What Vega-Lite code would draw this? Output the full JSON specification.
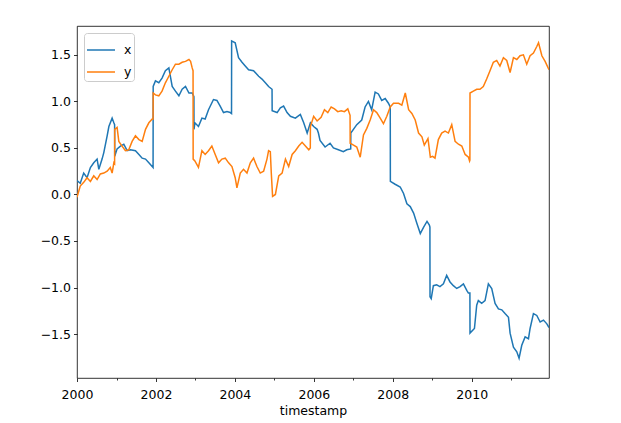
{
  "$schema": "https://vega.github.io/schema/vega-lite/v6.json",
  "width": 472,
  "height": 352,
  "autosize": "none",
  "padding": {"left": 77, "top": 26, "right": 72, "bottom": 45},
  "background": "white",
  "config": {
    "font": "DejaVu Sans",
    "view": {"stroke": "#000000", "strokeWidth": 0.8},
    "axis": {"grid": false, "domain": false, "labelFont": "DejaVu Sans", "labelFontSize": 12.5, "labelColor": "#000000", "tickColor": "#000000", "tickWidth": 0.8, "titleFont": "DejaVu Sans", "titleFontSize": 12.5, "titleFontWeight": "normal", "titleColor": "#000000"},
    "legend": {"labelFont": "DejaVu Sans"}
  },
  "data": {
    "format": {"parse": {"timestamp": "utc:'%Y-%m-%d'"}},
    "values": [
      {"timestamp": "2000-01-01", "series": "x", "value": 0.15},
      {"timestamp": "2000-01-31", "series": "x", "value": 0.12},
      {"timestamp": "2000-03-03", "series": "x", "value": 0.23},
      {"timestamp": "2000-04-03", "series": "x", "value": 0.18},
      {"timestamp": "2000-05-04", "series": "x", "value": 0.29},
      {"timestamp": "2000-06-04", "series": "x", "value": 0.34},
      {"timestamp": "2000-07-05", "series": "x", "value": 0.38},
      {"timestamp": "2000-07-21", "series": "x", "value": 0.27},
      {"timestamp": "2000-08-20", "series": "x", "value": 0.38},
      {"timestamp": "2000-09-05", "series": "x", "value": 0.45},
      {"timestamp": "2000-10-06", "series": "x", "value": 0.63},
      {"timestamp": "2000-10-22", "series": "x", "value": 0.73},
      {"timestamp": "2000-11-21", "series": "x", "value": 0.82},
      {"timestamp": "2000-12-07", "series": "x", "value": 0.77},
      {"timestamp": "2000-12-14", "series": "x", "value": 0.75},
      {"timestamp": "2000-12-15", "series": "x", "value": 0.41},
      {"timestamp": "2001-01-06", "series": "x", "value": 0.49},
      {"timestamp": "2001-02-06", "series": "x", "value": 0.52},
      {"timestamp": "2001-03-09", "series": "x", "value": 0.54},
      {"timestamp": "2001-04-09", "series": "x", "value": 0.47},
      {"timestamp": "2001-05-10", "series": "x", "value": 0.48},
      {"timestamp": "2001-06-25", "series": "x", "value": 0.47},
      {"timestamp": "2001-07-27", "series": "x", "value": 0.43},
      {"timestamp": "2001-08-26", "series": "x", "value": 0.39},
      {"timestamp": "2001-09-26", "series": "x", "value": 0.38},
      {"timestamp": "2001-10-27", "series": "x", "value": 0.34},
      {"timestamp": "2001-11-27", "series": "x", "value": 0.30},
      {"timestamp": "2001-12-05", "series": "x", "value": 0.29},
      {"timestamp": "2001-12-06", "series": "x", "value": 1.16},
      {"timestamp": "2001-12-27", "series": "x", "value": 1.22},
      {"timestamp": "2002-01-27", "series": "x", "value": 1.20},
      {"timestamp": "2002-02-26", "series": "x", "value": 1.25},
      {"timestamp": "2002-03-29", "series": "x", "value": 1.33},
      {"timestamp": "2002-04-30", "series": "x", "value": 1.36},
      {"timestamp": "2002-05-31", "series": "x", "value": 1.16},
      {"timestamp": "2002-06-30", "series": "x", "value": 1.11},
      {"timestamp": "2002-08-01", "series": "x", "value": 1.06},
      {"timestamp": "2002-08-31", "series": "x", "value": 1.13},
      {"timestamp": "2002-10-01", "series": "x", "value": 1.16},
      {"timestamp": "2002-11-02", "series": "x", "value": 1.09},
      {"timestamp": "2002-12-02", "series": "x", "value": 1.09},
      {"timestamp": "2002-12-18", "series": "x", "value": 1.05},
      {"timestamp": "2002-12-19", "series": "x", "value": 0.70},
      {"timestamp": "2002-12-27", "series": "x", "value": 0.77},
      {"timestamp": "2003-01-29", "series": "x", "value": 0.73},
      {"timestamp": "2003-03-02", "series": "x", "value": 0.82},
      {"timestamp": "2003-04-01", "series": "x", "value": 0.81},
      {"timestamp": "2003-05-02", "series": "x", "value": 0.91},
      {"timestamp": "2003-06-17", "series": "x", "value": 1.02},
      {"timestamp": "2003-07-19", "series": "x", "value": 1.01},
      {"timestamp": "2003-08-18", "series": "x", "value": 0.95},
      {"timestamp": "2003-09-18", "series": "x", "value": 0.88},
      {"timestamp": "2003-10-20", "series": "x", "value": 0.89},
      {"timestamp": "2003-11-19", "series": "x", "value": 0.88},
      {"timestamp": "2003-12-01", "series": "x", "value": 0.87},
      {"timestamp": "2003-12-02", "series": "x", "value": 1.65},
      {"timestamp": "2004-01-04", "series": "x", "value": 1.63},
      {"timestamp": "2004-02-04", "series": "x", "value": 1.47},
      {"timestamp": "2004-03-07", "series": "x", "value": 1.42},
      {"timestamp": "2004-04-06", "series": "x", "value": 1.38},
      {"timestamp": "2004-05-07", "series": "x", "value": 1.34},
      {"timestamp": "2004-06-22", "series": "x", "value": 1.33},
      {"timestamp": "2004-08-08", "series": "x", "value": 1.27},
      {"timestamp": "2004-09-08", "series": "x", "value": 1.24},
      {"timestamp": "2004-10-09", "series": "x", "value": 1.20},
      {"timestamp": "2004-11-08", "series": "x", "value": 1.16},
      {"timestamp": "2004-12-10", "series": "x", "value": 1.13},
      {"timestamp": "2004-12-11", "series": "x", "value": 0.90},
      {"timestamp": "2005-01-26", "series": "x", "value": 0.88},
      {"timestamp": "2005-02-25", "series": "x", "value": 0.93},
      {"timestamp": "2005-03-27", "series": "x", "value": 0.95},
      {"timestamp": "2005-04-28", "series": "x", "value": 0.88},
      {"timestamp": "2005-05-29", "series": "x", "value": 0.84},
      {"timestamp": "2005-07-14", "series": "x", "value": 0.82},
      {"timestamp": "2005-08-29", "series": "x", "value": 0.86},
      {"timestamp": "2005-09-29", "series": "x", "value": 0.77},
      {"timestamp": "2005-10-31", "series": "x", "value": 0.66},
      {"timestamp": "2005-11-30", "series": "x", "value": 0.77},
      {"timestamp": "2005-12-30", "series": "x", "value": 0.73},
      {"timestamp": "2006-01-31", "series": "x", "value": 0.70},
      {"timestamp": "2006-02-12", "series": "x", "value": 0.66},
      {"timestamp": "2006-02-27", "series": "x", "value": 0.58},
      {"timestamp": "2006-04-15", "series": "x", "value": 0.51},
      {"timestamp": "2006-05-31", "series": "x", "value": 0.55},
      {"timestamp": "2006-07-01", "series": "x", "value": 0.50},
      {"timestamp": "2006-08-16", "series": "x", "value": 0.48},
      {"timestamp": "2006-10-01", "series": "x", "value": 0.46},
      {"timestamp": "2006-11-01", "series": "x", "value": 0.48},
      {"timestamp": "2006-12-08", "series": "x", "value": 0.49},
      {"timestamp": "2006-12-09", "series": "x", "value": 0.66},
      {"timestamp": "2007-02-02", "series": "x", "value": 0.75},
      {"timestamp": "2007-03-20", "series": "x", "value": 0.80},
      {"timestamp": "2007-04-20", "series": "x", "value": 0.94},
      {"timestamp": "2007-05-21", "series": "x", "value": 1.00},
      {"timestamp": "2007-06-20", "series": "x", "value": 0.91},
      {"timestamp": "2007-07-22", "series": "x", "value": 1.10},
      {"timestamp": "2007-08-21", "series": "x", "value": 1.08},
      {"timestamp": "2007-09-21", "series": "x", "value": 1.01},
      {"timestamp": "2007-10-23", "series": "x", "value": 1.03},
      {"timestamp": "2007-11-22", "series": "x", "value": 0.98},
      {"timestamp": "2007-12-09", "series": "x", "value": 0.94},
      {"timestamp": "2007-12-10", "series": "x", "value": 0.14},
      {"timestamp": "2008-01-23", "series": "x", "value": 0.11},
      {"timestamp": "2008-03-10", "series": "x", "value": 0.08},
      {"timestamp": "2008-04-10", "series": "x", "value": 0.01},
      {"timestamp": "2008-05-11", "series": "x", "value": -0.10},
      {"timestamp": "2008-06-11", "series": "x", "value": -0.13},
      {"timestamp": "2008-07-12", "series": "x", "value": -0.20},
      {"timestamp": "2008-08-11", "series": "x", "value": -0.31},
      {"timestamp": "2008-09-12", "series": "x", "value": -0.42},
      {"timestamp": "2008-10-13", "series": "x", "value": -0.35},
      {"timestamp": "2008-11-13", "series": "x", "value": -0.29},
      {"timestamp": "2008-12-05", "series": "x", "value": -0.33},
      {"timestamp": "2008-12-10", "series": "x", "value": -0.35},
      {"timestamp": "2008-12-11", "series": "x", "value": -1.10},
      {"timestamp": "2008-12-22", "series": "x", "value": -1.12},
      {"timestamp": "2009-01-11", "series": "x", "value": -0.98},
      {"timestamp": "2009-02-10", "series": "x", "value": -0.97},
      {"timestamp": "2009-03-13", "series": "x", "value": -0.99},
      {"timestamp": "2009-04-14", "series": "x", "value": -0.96},
      {"timestamp": "2009-05-14", "series": "x", "value": -0.87},
      {"timestamp": "2009-06-14", "series": "x", "value": -0.94},
      {"timestamp": "2009-07-15", "series": "x", "value": -0.98},
      {"timestamp": "2009-08-15", "series": "x", "value": -1.01},
      {"timestamp": "2009-09-15", "series": "x", "value": -0.99},
      {"timestamp": "2009-10-16", "series": "x", "value": -0.96},
      {"timestamp": "2009-11-16", "series": "x", "value": -1.03},
      {"timestamp": "2009-12-01", "series": "x", "value": -1.06},
      {"timestamp": "2009-12-15", "series": "x", "value": -1.06},
      {"timestamp": "2009-12-16", "series": "x", "value": -1.49},
      {"timestamp": "2010-01-26", "series": "x", "value": -1.44},
      {"timestamp": "2010-02-16", "series": "x", "value": -1.19},
      {"timestamp": "2010-03-03", "series": "x", "value": -1.14},
      {"timestamp": "2010-04-03", "series": "x", "value": -1.17},
      {"timestamp": "2010-05-04", "series": "x", "value": -1.14},
      {"timestamp": "2010-06-04", "series": "x", "value": -0.96},
      {"timestamp": "2010-07-05", "series": "x", "value": -1.01},
      {"timestamp": "2010-08-05", "series": "x", "value": -1.17},
      {"timestamp": "2010-09-05", "series": "x", "value": -1.23},
      {"timestamp": "2010-10-06", "series": "x", "value": -1.24},
      {"timestamp": "2010-11-05", "series": "x", "value": -1.28},
      {"timestamp": "2010-12-07", "series": "x", "value": -1.32},
      {"timestamp": "2010-12-22", "series": "x", "value": -1.49},
      {"timestamp": "2011-01-22", "series": "x", "value": -1.64},
      {"timestamp": "2011-02-22", "series": "x", "value": -1.69},
      {"timestamp": "2011-03-15", "series": "x", "value": -1.76},
      {"timestamp": "2011-04-09", "series": "x", "value": -1.62},
      {"timestamp": "2011-05-10", "series": "x", "value": -1.53},
      {"timestamp": "2011-06-10", "series": "x", "value": -1.55},
      {"timestamp": "2011-06-25", "series": "x", "value": -1.44},
      {"timestamp": "2011-07-26", "series": "x", "value": -1.28},
      {"timestamp": "2011-08-26", "series": "x", "value": -1.30},
      {"timestamp": "2011-09-26", "series": "x", "value": -1.37},
      {"timestamp": "2011-10-27", "series": "x", "value": -1.35},
      {"timestamp": "2011-11-27", "series": "x", "value": -1.39},
      {"timestamp": "2011-12-17", "series": "x", "value": -1.43},

      {"timestamp": "2000-01-01", "series": "y", "value": -0.03},
      {"timestamp": "2000-01-31", "series": "y", "value": 0.09},
      {"timestamp": "2000-03-03", "series": "y", "value": 0.13},
      {"timestamp": "2000-04-03", "series": "y", "value": 0.18},
      {"timestamp": "2000-05-04", "series": "y", "value": 0.14},
      {"timestamp": "2000-06-04", "series": "y", "value": 0.20},
      {"timestamp": "2000-07-05", "series": "y", "value": 0.16},
      {"timestamp": "2000-08-04", "series": "y", "value": 0.22},
      {"timestamp": "2000-09-05", "series": "y", "value": 0.23},
      {"timestamp": "2000-10-06", "series": "y", "value": 0.25},
      {"timestamp": "2000-11-04", "series": "y", "value": 0.29},
      {"timestamp": "2000-11-21", "series": "y", "value": 0.23},
      {"timestamp": "2000-12-07", "series": "y", "value": 0.34},
      {"timestamp": "2000-12-14", "series": "y", "value": 0.33},
      {"timestamp": "2000-12-15", "series": "y", "value": 0.70},
      {"timestamp": "2001-01-06", "series": "y", "value": 0.72},
      {"timestamp": "2001-01-22", "series": "y", "value": 0.57},
      {"timestamp": "2001-02-21", "series": "y", "value": 0.52},
      {"timestamp": "2001-03-24", "series": "y", "value": 0.47},
      {"timestamp": "2001-04-24", "series": "y", "value": 0.48},
      {"timestamp": "2001-05-25", "series": "y", "value": 0.57},
      {"timestamp": "2001-06-25", "series": "y", "value": 0.63},
      {"timestamp": "2001-07-27", "series": "y", "value": 0.59},
      {"timestamp": "2001-08-26", "series": "y", "value": 0.57},
      {"timestamp": "2001-09-26", "series": "y", "value": 0.70},
      {"timestamp": "2001-10-27", "series": "y", "value": 0.77},
      {"timestamp": "2001-11-27", "series": "y", "value": 0.81},
      {"timestamp": "2001-12-05", "series": "y", "value": 0.81},
      {"timestamp": "2001-12-06", "series": "y", "value": 1.09},
      {"timestamp": "2001-12-27", "series": "y", "value": 1.07},
      {"timestamp": "2002-01-27", "series": "y", "value": 1.06},
      {"timestamp": "2002-02-26", "series": "y", "value": 1.11},
      {"timestamp": "2002-03-29", "series": "y", "value": 1.20},
      {"timestamp": "2002-04-30", "series": "y", "value": 1.27},
      {"timestamp": "2002-05-31", "series": "y", "value": 1.34},
      {"timestamp": "2002-06-30", "series": "y", "value": 1.40},
      {"timestamp": "2002-08-01", "series": "y", "value": 1.40},
      {"timestamp": "2002-08-31", "series": "y", "value": 1.42},
      {"timestamp": "2002-10-01", "series": "y", "value": 1.43},
      {"timestamp": "2002-11-02", "series": "y", "value": 1.45},
      {"timestamp": "2002-11-17", "series": "y", "value": 1.43},
      {"timestamp": "2002-12-02", "series": "y", "value": 1.36},
      {"timestamp": "2002-12-10", "series": "y", "value": 1.33},
      {"timestamp": "2002-12-11", "series": "y", "value": 0.38},
      {"timestamp": "2002-12-27", "series": "y", "value": 0.36},
      {"timestamp": "2003-01-29", "series": "y", "value": 0.29},
      {"timestamp": "2003-03-02", "series": "y", "value": 0.47},
      {"timestamp": "2003-04-01", "series": "y", "value": 0.43},
      {"timestamp": "2003-05-02", "series": "y", "value": 0.47},
      {"timestamp": "2003-06-02", "series": "y", "value": 0.52},
      {"timestamp": "2003-07-03", "series": "y", "value": 0.43},
      {"timestamp": "2003-08-03", "series": "y", "value": 0.34},
      {"timestamp": "2003-09-03", "series": "y", "value": 0.38},
      {"timestamp": "2003-10-04", "series": "y", "value": 0.39},
      {"timestamp": "2003-11-04", "series": "y", "value": 0.34},
      {"timestamp": "2003-12-05", "series": "y", "value": 0.30},
      {"timestamp": "2004-01-04", "series": "y", "value": 0.18},
      {"timestamp": "2004-01-20", "series": "y", "value": 0.07},
      {"timestamp": "2004-02-20", "series": "y", "value": 0.23},
      {"timestamp": "2004-03-21", "series": "y", "value": 0.27},
      {"timestamp": "2004-04-22", "series": "y", "value": 0.23},
      {"timestamp": "2004-05-23", "series": "y", "value": 0.34},
      {"timestamp": "2004-06-22", "series": "y", "value": 0.39},
      {"timestamp": "2004-07-23", "series": "y", "value": 0.30},
      {"timestamp": "2004-08-23", "series": "y", "value": 0.23},
      {"timestamp": "2004-09-23", "series": "y", "value": 0.25},
      {"timestamp": "2004-10-24", "series": "y", "value": 0.38},
      {"timestamp": "2004-11-08", "series": "y", "value": 0.47},
      {"timestamp": "2004-11-24", "series": "y", "value": 0.46},
      {"timestamp": "2004-12-03", "series": "y", "value": 0.23},
      {"timestamp": "2004-12-15", "series": "y", "value": -0.02},
      {"timestamp": "2005-01-10", "series": "y", "value": 0.00},
      {"timestamp": "2005-02-10", "series": "y", "value": 0.20},
      {"timestamp": "2005-03-13", "series": "y", "value": 0.23},
      {"timestamp": "2005-04-13", "series": "y", "value": 0.38},
      {"timestamp": "2005-05-13", "series": "y", "value": 0.30},
      {"timestamp": "2005-06-14", "series": "y", "value": 0.43},
      {"timestamp": "2005-07-14", "series": "y", "value": 0.47},
      {"timestamp": "2005-08-14", "series": "y", "value": 0.52},
      {"timestamp": "2005-09-14", "series": "y", "value": 0.56},
      {"timestamp": "2005-10-15", "series": "y", "value": 0.52},
      {"timestamp": "2005-11-15", "series": "y", "value": 0.48},
      {"timestamp": "2005-11-29", "series": "y", "value": 0.50},
      {"timestamp": "2005-11-30", "series": "y", "value": 0.73},
      {"timestamp": "2005-12-30", "series": "y", "value": 0.84},
      {"timestamp": "2006-01-31", "series": "y", "value": 0.79},
      {"timestamp": "2006-03-09", "series": "y", "value": 0.83},
      {"timestamp": "2006-04-09", "series": "y", "value": 0.91},
      {"timestamp": "2006-05-10", "series": "y", "value": 0.88},
      {"timestamp": "2006-06-10", "series": "y", "value": 0.94},
      {"timestamp": "2006-07-11", "series": "y", "value": 0.92},
      {"timestamp": "2006-08-10", "series": "y", "value": 0.89},
      {"timestamp": "2006-09-11", "series": "y", "value": 0.90},
      {"timestamp": "2006-10-11", "series": "y", "value": 0.89},
      {"timestamp": "2006-11-11", "series": "y", "value": 0.92},
      {"timestamp": "2006-12-02", "series": "y", "value": 0.85},
      {"timestamp": "2006-12-03", "series": "y", "value": 0.55},
      {"timestamp": "2007-01-03", "series": "y", "value": 0.53},
      {"timestamp": "2007-02-02", "series": "y", "value": 0.51},
      {"timestamp": "2007-03-06", "series": "y", "value": 0.40},
      {"timestamp": "2007-04-05", "series": "y", "value": 0.64},
      {"timestamp": "2007-05-06", "series": "y", "value": 0.71},
      {"timestamp": "2007-06-06", "series": "y", "value": 0.80},
      {"timestamp": "2007-07-07", "series": "y", "value": 0.91},
      {"timestamp": "2007-08-06", "series": "y", "value": 0.88},
      {"timestamp": "2007-09-07", "series": "y", "value": 0.82},
      {"timestamp": "2007-10-07", "series": "y", "value": 0.76},
      {"timestamp": "2007-11-07", "series": "y", "value": 0.84},
      {"timestamp": "2007-12-09", "series": "y", "value": 0.94},
      {"timestamp": "2008-01-08", "series": "y", "value": 0.98},
      {"timestamp": "2008-02-24", "series": "y", "value": 0.98},
      {"timestamp": "2008-03-25", "series": "y", "value": 0.96},
      {"timestamp": "2008-04-26", "series": "y", "value": 1.09},
      {"timestamp": "2008-05-27", "series": "y", "value": 0.91},
      {"timestamp": "2008-06-26", "series": "y", "value": 0.87},
      {"timestamp": "2008-07-27", "series": "y", "value": 0.80},
      {"timestamp": "2008-08-27", "series": "y", "value": 0.66},
      {"timestamp": "2008-09-27", "series": "y", "value": 0.62},
      {"timestamp": "2008-10-19", "series": "y", "value": 0.53},
      {"timestamp": "2008-11-22", "series": "y", "value": 0.60},
      {"timestamp": "2008-12-14", "series": "y", "value": 0.40},
      {"timestamp": "2009-01-04", "series": "y", "value": 0.41},
      {"timestamp": "2009-01-26", "series": "y", "value": 0.39},
      {"timestamp": "2009-02-26", "series": "y", "value": 0.59},
      {"timestamp": "2009-03-29", "series": "y", "value": 0.66},
      {"timestamp": "2009-04-29", "series": "y", "value": 0.68},
      {"timestamp": "2009-05-30", "series": "y", "value": 0.66},
      {"timestamp": "2009-06-30", "series": "y", "value": 0.75},
      {"timestamp": "2009-07-31", "series": "y", "value": 0.57},
      {"timestamp": "2009-08-31", "series": "y", "value": 0.54},
      {"timestamp": "2009-10-01", "series": "y", "value": 0.52},
      {"timestamp": "2009-11-01", "series": "y", "value": 0.43},
      {"timestamp": "2009-12-02", "series": "y", "value": 0.40},
      {"timestamp": "2009-12-12", "series": "y", "value": 0.36},
      {"timestamp": "2009-12-15", "series": "y", "value": 0.37},
      {"timestamp": "2009-12-16", "series": "y", "value": 1.09},
      {"timestamp": "2010-01-16", "series": "y", "value": 1.11},
      {"timestamp": "2010-02-16", "series": "y", "value": 1.13},
      {"timestamp": "2010-03-18", "series": "y", "value": 1.13},
      {"timestamp": "2010-04-18", "series": "y", "value": 1.16},
      {"timestamp": "2010-05-19", "series": "y", "value": 1.24},
      {"timestamp": "2010-06-19", "series": "y", "value": 1.33},
      {"timestamp": "2010-07-20", "series": "y", "value": 1.42},
      {"timestamp": "2010-08-20", "series": "y", "value": 1.44},
      {"timestamp": "2010-09-19", "series": "y", "value": 1.38},
      {"timestamp": "2010-10-21", "series": "y", "value": 1.47},
      {"timestamp": "2010-11-21", "series": "y", "value": 1.44},
      {"timestamp": "2010-12-22", "series": "y", "value": 1.31},
      {"timestamp": "2011-01-22", "series": "y", "value": 1.47},
      {"timestamp": "2011-02-22", "series": "y", "value": 1.45},
      {"timestamp": "2011-03-24", "series": "y", "value": 1.49},
      {"timestamp": "2011-04-24", "series": "y", "value": 1.50},
      {"timestamp": "2011-05-25", "series": "y", "value": 1.40},
      {"timestamp": "2011-06-25", "series": "y", "value": 1.49},
      {"timestamp": "2011-07-26", "series": "y", "value": 1.52},
      {"timestamp": "2011-08-26", "series": "y", "value": 1.59},
      {"timestamp": "2011-09-11", "series": "y", "value": 1.63},
      {"timestamp": "2011-10-12", "series": "y", "value": 1.49},
      {"timestamp": "2011-11-11", "series": "y", "value": 1.43},
      {"timestamp": "2011-12-17", "series": "y", "value": 1.34}
    ]
  },
  "mark": {"type": "line", "strokeWidth": 1.5, "clip": true},
  "encoding": {
    "x": {
      "field": "timestamp",
      "type": "temporal",
      "scale": {"type": "utc", "domain": [{"year": 2000, "month": 1, "date": 1, "utc": true}, {"year": 2011, "month": 12, "date": 17, "utc": true}], "nice": false},
      "axis": {
        "title": "timestamp",
        "titlePadding": 3,
        "values": [{"year": 2000, "utc": true}, {"year": 2001, "utc": true}, {"year": 2002, "utc": true}, {"year": 2003, "utc": true}, {"year": 2004, "utc": true}, {"year": 2005, "utc": true}, {"year": 2006, "utc": true}, {"year": 2007, "utc": true}, {"year": 2008, "utc": true}, {"year": 2009, "utc": true}, {"year": 2010, "utc": true}, {"year": 2011, "utc": true}],
        "labelExpr": "utcyear(datum.value) % 2 == 0 ? '' + utcyear(datum.value) : ''",
        "tickSize": {"condition": {"test": "utcyear(datum.value) % 2 == 1", "value": 2}, "value": 3.5},
        "labelPadding": 7,
        "labelFlush": false,
        "labelOverlap": false
      }
    },
    "y": {
      "field": "value",
      "type": "quantitative",
      "scale": {"domain": [-1.972, 1.81], "nice": false, "zero": false},
      "axis": {
        "title": null,
        "values": [-1.5, -1.0, -0.5, 0.0, 0.5, 1.0, 1.5],
        "labelExpr": "replace(format(datum.value, '.1f'), '-', '\u2212')",
        "tickSize": 3.5,
        "labelPadding": 3
      }
    },
    "color": {
      "field": "series",
      "type": "nominal",
      "scale": {"domain": ["x", "y"], "range": ["#1f77b4", "#ff7f0e"]},
      "legend": {
        "title": null,
        "orient": "none",
        "legendX": 7,
        "legendY": 7,
        "symbolType": "stroke",
        "symbolSize": 784,
        "symbolStrokeWidth": 1.5,
        "labelFontSize": 12.5,
        "labelColor": "#000000",
        "labelOffset": 8,
        "padding": 2,
        "rowPadding": -12,
        "strokeColor": "#cccccc",
        "fillColor": "white",
        "cornerRadius": 3
      }
    }
  }
}
